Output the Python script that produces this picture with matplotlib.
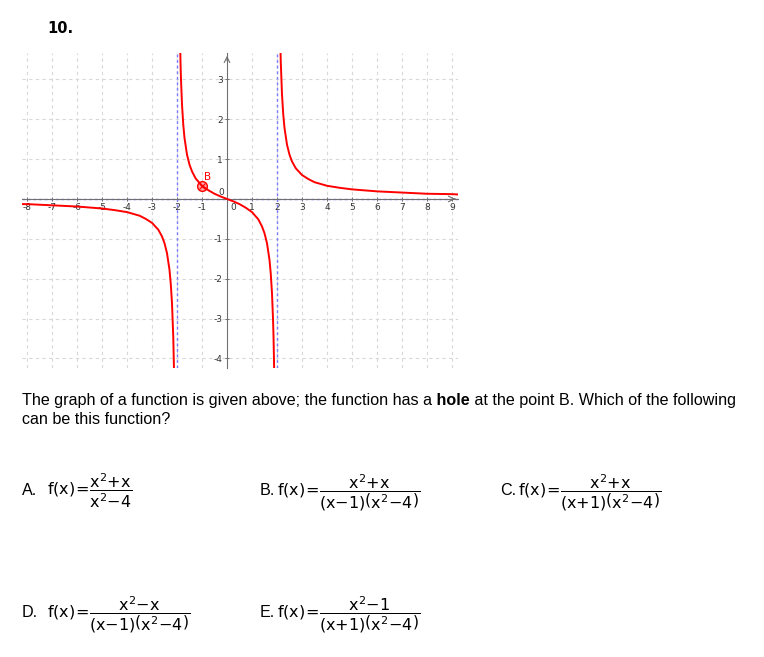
import matplotlib
matplotlib.use("Agg")
import matplotlib.pyplot as plt

# points of the red curve (one list per branch)
left_x = [-8.2, -8, -7, -6, -5, -4.5, -4, -3.5, -3.25, -3, -2.75, -2.6, -2.5, -2.4, -2.3,
          -2.25, -2.2, -2.15, -2.12]
left_y = [-0.13, -0.13, -0.16, -0.19, -0.24, -0.28, -0.33, -0.42, -0.5, -0.6, -0.77, -0.94,
          -1.11, -1.36, -1.78, -2.12, -2.62, -3.45, -4.29]

mid_x = [-1.88, -1.86, -1.84, -1.8, -1.75, -1.7, -1.6, -1.5, -1.4, -1.25, -1, -0.75, -0.5,
         -0.25, 0, 0.25, 0.5, 0.75, 1, 1.25, 1.4, 1.5, 1.6, 1.7, 1.75, 1.8, 1.84, 1.86,
         1.88, 1.9]
mid_y = [4.04, 3.44, 3.0, 2.37, 1.87, 1.53, 1.11, 0.86, 0.69, 0.51, 0.33, 0.22, 0.13,
         0.06, 0, -0.06, -0.13, -0.22, -0.33, -0.51, -0.69, -0.86, -1.11, -1.53, -1.87,
         -2.37, -3.0, -3.44, -4.04, -4.87]

right_x = [2.12, 2.15, 2.2, 2.25, 2.3, 2.4, 2.5, 2.6, 2.75, 3, 3.25, 3.5, 4, 4.5, 5, 6,
           7, 8, 9, 9.3]
right_y = [4.29, 3.45, 2.62, 2.12, 1.78, 1.36, 1.11, 0.94, 0.77, 0.6, 0.5, 0.42, 0.33,
           0.28, 0.24, 0.19, 0.16, 0.13, 0.12, 0.11]

hole_x = [-1]
hole_y = [0.33]
asymptotes = [-2, 2]

xticks = [-8, -7, -6, -5, -4, -3, -2, -1, 1, 2, 3, 4, 5, 6, 7, 8, 9]
yticks = [-4, -3, -2, -1, 1, 2, 3]

question = ["The graph of a function is given above; the function has a",
            " hole",
            " at the point B. Which of the following"]
question2 = "can be this function?"

choices = ["A.", "B.", "C.", "D.", "E."]
formulas = [
    r"$\mathrm{f}(x)\!=\!\dfrac{x^2{+}x}{x^2{-}4}$",
    r"$\mathrm{f}(x)\!=\!\dfrac{x^2{+}x}{(x{-}1)\left(x^2{-}4\right)}$",
    r"$\mathrm{f}(x)\!=\!\dfrac{x^2{+}x}{(x{+}1)\left(x^2{-}4\right)}$",
    r"$\mathrm{f}(x)\!=\!\dfrac{x^2{-}x}{(x{-}1)\left(x^2{-}4\right)}$",
    r"$\mathrm{f}(x)\!=\!\dfrac{x^2{-}1}{(x{+}1)\left(x^2{-}4\right)}$",
]

plt.rcParams["mathtext.fontset"] = "custom"
plt.rcParams["mathtext.rm"] = "DejaVu Sans"
plt.rcParams["mathtext.it"] = "DejaVu Sans"
plt.rcParams["mathtext.bf"] = "DejaVu Sans:bold"
plt.rcParams["axes.unicode_minus"] = False

qfont = "Liberation Sans"
qsize = 11.6

fig = plt.figure(figsize=(7.64, 6.57), dpi=100)

# ---- the graph ----
ax = fig.add_axes([22 / 764, 1 - 368 / 657, 436 / 764, 315 / 657])
ax.set_xlim(-8.2, 9.24)
ax.set_ylim(-4.24, 3.66)

grey = "#707070"
ax.set_xticks(xticks)
ax.set_yticks(yticks)
ax.grid(True, color="#d8d8d8", ls=(0, (3, 3)), lw=0.8)
for s in ["top", "right"]:
    ax.spines[s].set_visible(False)
ax.spines["left"].set_position(("data", 0))
ax.spines["bottom"].set_position(("data", 0))
ax.spines["left"].set_color(grey)
ax.spines["bottom"].set_color(grey)
ax.tick_params(direction="inout", length=3, width=0.7, color=grey,
               labelsize=6.5, labelcolor="#333333", pad=1.5)

ax.axhline(0, color="#7b7bff", lw=1, ls=(0, (2, 2)), zorder=2.5)
for a in asymptotes:
    ax.axvline(a, color="#7b7bff", lw=1, ls=(0, (2, 2)), zorder=2.5)

# axis arrows
ax.annotate("", xy=(0, 3.66), xytext=(0, 3.4), annotation_clip=False,
            arrowprops=dict(arrowstyle="->", color=grey, lw=0.8))
ax.annotate("", xy=(9.24, 0), xytext=(9.0, 0), annotation_clip=False,
            arrowprops=dict(arrowstyle="->", color=grey, lw=0.8))

ax.text(-0.12, 0.06, "0", ha="right", va="bottom", fontsize=6.5, color="#333333")
ax.text(0.12, -0.1, "0", ha="left", va="top", fontsize=6.5, color="#333333")

for bx, by in [(left_x, left_y), (mid_x, mid_y), (right_x, right_y)]:
    ax.plot(bx, by, color="#ff0000", lw=1.4, zorder=3)

ax.plot(hole_x, hole_y, "o", ms=7, mfc=(1, 0, 0, 0.35), mec="#ff0000", mew=1, zorder=4)
ax.plot(hole_x, hole_y, "x", ms=4, mec="#ff0000", mew=0.8, zorder=5)
ax.text(hole_x[0] + 0.22, hole_y[0] + 0.22, "B", color="#ff0000", fontsize=7.5,
        ha="center", va="center")

# ---- the text of the question ----
page = fig.add_axes([0, 0, 1, 1])
page.set_xlim(0, 764)
page.set_ylim(657, 0)
page.axis("off")

page.text(47, 33, "10.", fontsize=10.5, weight="bold", va="baseline")

t = page.text(22, 405, question[0], fontsize=qsize, family=qfont, va="baseline")
t = page.annotate(question[1], xy=(1, 0), xycoords=t, fontsize=qsize, family=qfont,
                  weight="bold", va="bottom")
page.annotate(question[2], xy=(1, 0), xycoords=t, fontsize=qsize, family=qfont,
              va="bottom")
page.text(22, 424, question2, fontsize=qsize, family=qfont, va="baseline")

label_pos = [(22, 495), (260, 495), (500, 495), (22, 617), (260, 617)]
formula_x = [47, 277, 518, 47, 277]
for lab, f, (lx, ly), fx in zip(choices, formulas, label_pos, formula_x):
    page.text(lx, ly, lab, fontsize=qsize, family=qfont, va="baseline")
    page.text(fx, ly, f, fontsize=11.5, va="baseline")

fig.savefig("out.png", dpi=100)
plt.close(fig)
